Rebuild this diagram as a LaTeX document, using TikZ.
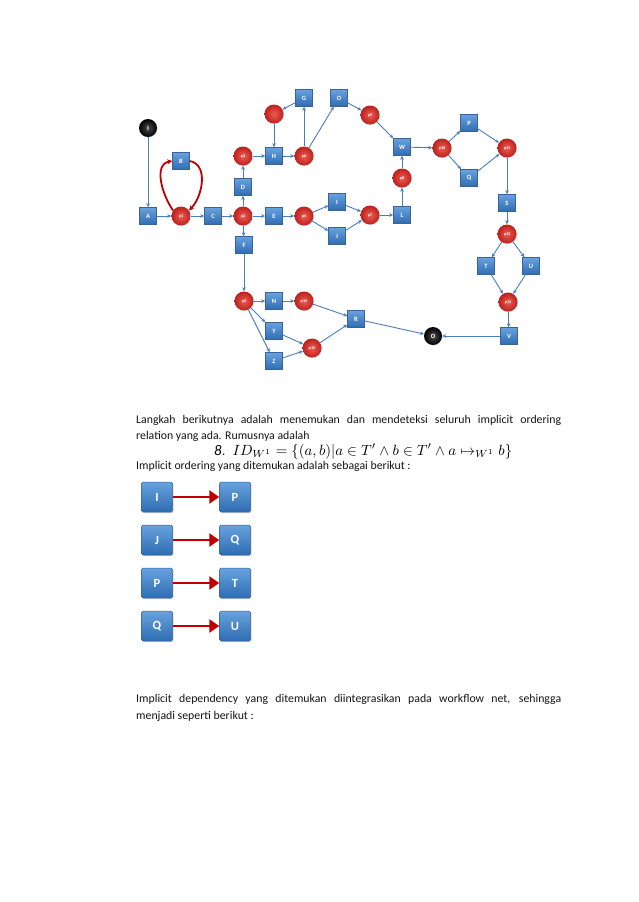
\documentclass[tikz,border=0pt]{standalone}
\usepackage{fontspec}
\setmainfont{Carlito}
\usepackage{amsmath,amssymb,graphicx}
\usetikzlibrary{arrows.meta,shadows}
\definecolor{tbluetop}{RGB}{104,162,222}
\definecolor{tbluebot}{RGB}{46,108,178}
\definecolor{tborder}{RGB}{58,98,150}
\definecolor{predin}{RGB}{238,92,80}
\definecolor{predout}{RGB}{188,32,30}
\definecolor{edgeblue}{RGB}{74,126,187}
\definecolor{darkred}{RGB}{192,0,0}
\definecolor{txt}{RGB}{20,20,20}
\tikzset{
  trans/.style={rectangle, minimum size=17pt, inner sep=0pt, top color=tbluetop, bottom color=tbluebot,
    draw=tborder, line width=0.4pt, text=white, font=\bfseries\fontsize{6.5}{7}\selectfont,
    drop shadow={opacity=0.3, shadow xshift=0.8pt, shadow yshift=-0.8pt}},
  place/.style={circle, minimum size=19pt, inner sep=0pt, inner color=predin, outer color=predout,
    text=white, font=\bfseries\fontsize{4.2}{4.2}\selectfont,
    drop shadow={opacity=0.25, shadow xshift=0.6pt, shadow yshift=-0.6pt}},
  term/.style={circle, minimum size=18pt, inner sep=0pt, inner color=black!70, outer color=black,
    text=white, font=\bfseries\fontsize{6.5}{7}\selectfont,
    drop shadow={opacity=0.25, shadow xshift=0.6pt, shadow yshift=-0.6pt}},
  arr/.style={draw=edgeblue, line width=0.9pt, -{Stealth[length=4pt,width=3.6pt]}},
  rarr/.style={draw=darkred, line width=1.8pt, -{Stealth[length=5pt,width=5pt]}},
  bigbox/.style={rectangle, rounded corners=1.5pt, minimum width=31pt, minimum height=30pt, inner sep=0pt,
    top color=tbluetop, bottom color=tbluebot, draw=tborder, line width=0.5pt, text=white,
    font=\bfseries\fontsize{12.5}{13}\selectfont,
    drop shadow={opacity=0.3, shadow xshift=1.2pt, shadow yshift=-1.2pt}},
  bigarr/.style={draw=darkred, line width=2.8pt, -{Triangle[length=10pt,width=13pt]}},
  para/.style={anchor=base west, inner sep=0pt, text=txt, font=\fontsize{11.8}{14}\selectfont}
}
\begin{document}
\begin{tikzpicture}[x=1pt,y=-1pt]
\useasboundingbox (0,0) rectangle (638,902);
\fill[white] (0,0) rectangle (638,902);
% ---- network ----
\node[term]  (Iin) at (148,128) {I};
\node[trans] (A)   at (148,216) {A};
\node[trans] (B)   at (181,161) {B};
\node[place] (p1)  at (181,216) {p1};
\node[trans] (C)   at (213,216) {C};
\node[place] (p2)  at (243,216) {p2};
\node[trans] (D)   at (243,187) {D};
\node[place] (p3)  at (243,156) {p3};
\node[trans] (H)   at (274,156) {H};
\node[place] (px)  at (274,114) {};
\node[trans] (G)   at (304,98) {G};
\node[trans] (O)   at (339,98) {O};
\node[place] (p6)  at (304,156) {p6};
\node[place] (p9)  at (370,115) {p9};
\node[trans] (W)   at (402,147) {W};
\node[trans] (E)   at (274,216) {E};
\node[place] (p4)  at (304,216) {p4};
\node[trans] (It)  at (337,202) {I};
\node[trans] (J)   at (337,236) {J};
\node[place] (p7)  at (370,215) {p7};
\node[trans] (L)   at (402,215) {L};
\node[place] (p8)  at (402,178) {p8};
\node[place] (p10) at (442,148) {p10};
\node[trans] (P)   at (469,123) {P};
\node[trans] (Q)   at (469,178) {Q};
\node[place] (p11) at (507,148) {p11};
\node[trans] (S)   at (507,203) {S};
\node[place] (p12) at (507,234) {p12};
\node[trans] (T)   at (486,266) {T};
\node[trans] (U)   at (531,266) {U};
\node[place] (p13) at (508,302) {p13};
\node[trans] (V)   at (509,336) {V};
\node[term]  (Oout) at (433,336) {O};
\node[trans] (R)   at (356,319) {R};
\node[trans] (F)   at (244,245) {F};
\node[place] (p5)  at (244,301) {p5};
\node[trans] (N)   at (274,301) {N};
\node[place] (p14) at (304,301) {p14};
\node[trans] (Y)   at (274,331) {Y};
\node[place] (p15) at (312,348) {p15};
\node[trans] (Z)   at (274,361) {Z};
% edges
\draw[arr] (Iin) -- (A);
\draw[arr] (A) -- (p1);
\draw[arr] (p1) -- (C);
\draw[arr] (C) -- (p2);
\draw[arr] (p2) -- (D);
\draw[arr] (D) -- (p3);
\draw[arr] (p3) -- (H);
\draw[arr] (H) -- (p6);
\draw[arr] (p6) -- (G);
\draw[arr] (G) -- (px);
\draw[arr] (px) -- (H);
\draw[arr] (p6) -- (O);
\draw[arr] (O) -- (p9);
\draw[arr] (p9) -- (W);
\draw[arr] (p2) -- (E);
\draw[arr] (E) -- (p4);
\draw[arr] (p4) -- (It);
\draw[arr] (p4) -- (J);
\draw[arr] (It) -- (p7);
\draw[arr] (J) -- (p7);
\draw[arr] (p7) -- (L);
\draw[arr] (L) -- (p8);
\draw[arr] (p8) -- (W);
\draw[arr] (W) -- (p10);
\draw[arr] (p10) -- (P);
\draw[arr] (p10) -- (Q);
\draw[arr] (P) -- (p11);
\draw[arr] (Q) -- (p11);
\draw[arr] (p11) -- (S);
\draw[arr] (S) -- (p12);
\draw[arr] (p12) -- (T);
\draw[arr] (p12) -- (U);
\draw[arr] (T) -- (p13);
\draw[arr] (U) -- (p13);
\draw[arr] (p13) -- (V);
\draw[arr] (V) -- (Oout);
\draw[arr] (p2) -- (F);
\draw[arr] (F) -- (p5);
\draw[arr] (p5) -- (N);
\draw[arr] (p5) -- (Y);
\draw[arr] (p5) -- (Z);
\draw[arr] (N) -- (p14);
\draw[arr] (p14) -- (R);
\draw[arr] (Y) -- (p15);
\draw[arr] (Z) -- (p15);
\draw[arr] (p15) -- (R);
\draw[arr] (R) -- (Oout);
\draw[rarr] (p1.145) to[out=125,in=190] (B.west);
\draw[rarr] (B.east) to[out=-10,in=45] (p1.35);
% ---- text ----
\node[para] (t1) at (136,423) {\makebox[425pt][s]{Langkah berikutnya adalah menemukan dan mendeteksi seluruh implicit ordering}};
\node[para] (t2) at (136,439) {relation yang ada. Rumusnya adalah};
\node[anchor=base west, inner sep=0pt] (f) at (214,455) {\resizebox{298pt}{!}{$\mathit{8.}\ \ ID_{W^1} = \{(a,b) | a\in T'\wedge b\in T'\wedge a\mapsto_{W^1} b\}$}};
\node[para] (t3) at (136,469) {Implicit ordering yang ditemukan adalah sebagai berikut :};
% ---- boxes ----
\node[bigbox] (b1) at (157,497) {I};
\node[bigbox] (b2) at (235,497) {P};
\node[bigbox] (b3) at (157,540) {J};
\node[bigbox] (b4) at (235,540) {Q};
\node[bigbox] (b5) at (157,583) {P};
\node[bigbox] (b6) at (235,583) {T};
\node[bigbox] (b7) at (157,626) {Q};
\node[bigbox] (b8) at (235,626) {U};
\draw[bigarr] (b1) -- (b2);
\draw[bigarr] (b3) -- (b4);
\draw[bigarr] (b5) -- (b6);
\draw[bigarr] (b7) -- (b8);
% ---- closing text ----
\node[para] (t4) at (136,702) {\makebox[425pt][s]{Implicit dependency yang ditemukan diintegrasikan pada workflow net, sehingga}};
\node[para] (t5) at (136,719) {menjadi seperti berikut :};
\end{tikzpicture}
\end{document}
